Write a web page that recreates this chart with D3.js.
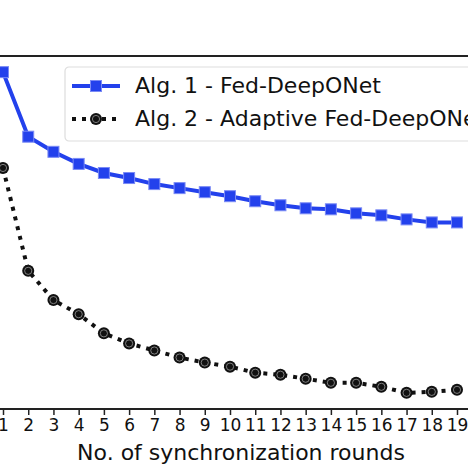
<!DOCTYPE html>
<html>
<head>
<meta charset="utf-8">
<script src="https://cdn.jsdelivr.net/npm/d3@7"></script>
<style>
  body { margin: 0; background: #fff; }
  text { font-family: "DejaVu Sans", sans-serif; fill: #111; }
</style>
</head>
<body>
<div id="chart"></div>
<script>
// rounds shown on the x axis
var rounds = d3.range(1, 20);

// Alg. 1 - Fed-DeepONet
var fedValues = [0.384, 0.320, 0.305, 0.293, 0.284, 0.279, 0.273, 0.269, 0.265, 0.261,
                 0.256, 0.252, 0.249, 0.248, 0.244, 0.242, 0.238, 0.235, 0.235];

// Alg. 2 - Adaptive Fed-DeepONet
var adaptiveValues = [0.289, 0.187, 0.158, 0.144, 0.125, 0.115, 0.108, 0.101, 0.096, 0.092,
                      0.086, 0.084, 0.080, 0.076, 0.076, 0.072, 0.066, 0.067, 0.069];

var seriesNames = ["Alg. 1 - Fed-DeepONet", "Alg. 2 - Adaptive Fed-DeepONet"];

var width = 468, height = 468;
var blue = "#2341ec";

var svg = d3.select("#chart").append("svg")
    .attr("width", width)
    .attr("height", height);

// x: round 1 sits at the very left, plot continues past the right edge
var x = d3.scaleLinear().domain([1, 19]).range([3, 457]);
var y = d3.scaleLinear().domain([0.05, 0.40]).range([409, 56]);

// top spine
svg.append("line")
    .attr("x1", 0).attr("x2", width)
    .attr("y1", 56).attr("y2", 56)
    .attr("stroke", "#222").attr("stroke-width", 2);

var xAxis = svg.append("g")
    .attr("transform", "translate(0,409)")
    .call(d3.axisBottom(x).tickValues(rounds).tickSize(6).tickPadding(4).tickFormat(d3.format("d")));
xAxis.select(".domain").remove();
xAxis.append("line")
    .attr("x1", 0).attr("x2", width)
    .attr("stroke", "#222").attr("stroke-width", 2);
xAxis.selectAll(".tick line").attr("stroke", "#222").attr("stroke-width", 1.5);
xAxis.selectAll(".tick text")
    .style("font-family", "DejaVu Sans")
    .style("font-size", "17px")
    .attr("fill", "#111");

svg.append("text")
    .attr("x", 241).attr("y", 460)
    .attr("text-anchor", "middle")
    .style("font-size", "22px")
    .text("No. of synchronization rounds");

var line = d3.line()
    .x(function (d, i) { return x(rounds[i]); })
    .y(function (d) { return y(d); });

function circleMarker(sel) {
    sel.append("circle").attr("r", 6).attr("fill", "#111");
    sel.append("circle").attr("r", 3.6).attr("fill", "none")
        .attr("stroke", "#999").attr("stroke-width", 0.8);
}

function squareMarker(sel) {
    sel.append("rect")
        .attr("x", -5.5).attr("y", -5.5)
        .attr("width", 11).attr("height", 11)
        .attr("fill", blue)
        .attr("stroke", "#7a8af5")
        .attr("stroke-width", 1);
}

// Adaptive series: dotted black with circle markers
svg.append("path")
    .datum(adaptiveValues)
    .attr("d", line)
    .attr("fill", "none")
    .attr("stroke", "#111")
    .attr("stroke-width", 4)
    .attr("stroke-dasharray", "4,6");

svg.selectAll(".dot")
    .data(adaptiveValues)
    .enter().append("g")
    .attr("class", "dot")
    .attr("transform", function (d, i) { return "translate(" + x(rounds[i]) + "," + y(d) + ")"; })
    .call(circleMarker);

// Fed-DeepONet: solid blue with square markers
svg.append("path")
    .datum(fedValues)
    .attr("d", line)
    .attr("fill", "none")
    .attr("stroke", blue)
    .attr("stroke-width", 4);

svg.selectAll(".sq")
    .data(fedValues)
    .enter().append("g")
    .attr("class", "sq")
    .attr("transform", function (d, i) { return "translate(" + x(rounds[i]) + "," + y(d) + ")"; })
    .call(squareMarker);

// legend
var legend = svg.append("g").attr("transform", "translate(65,67)");
legend.append("rect")
    .attr("x", 0).attr("y", 0)
    .attr("width", 430).attr("height", 74)
    .attr("rx", 4)
    .attr("fill", "#fff")
    .attr("fill-opacity", 0.85)
    .attr("stroke", "#ddd")
    .attr("stroke-width", 1.2);

legend.append("line")
    .attr("x1", 7).attr("x2", 55).attr("y1", 19).attr("y2", 19)
    .attr("stroke", blue).attr("stroke-width", 4);
legend.append("g").attr("transform", "translate(31,19)").call(squareMarker);

legend.append("line")
    .attr("x1", 7).attr("x2", 55).attr("y1", 52).attr("y2", 52)
    .attr("stroke", "#111").attr("stroke-width", 4)
    .attr("stroke-dasharray", "4,6");
legend.append("g").attr("transform", "translate(31,52)").call(circleMarker);

legend.selectAll(".lbl")
    .data(seriesNames)
    .enter().append("text")
    .attr("class", "lbl")
    .attr("x", 70)
    .attr("y", function (d, i) { return 26 + i * 33; })
    .style("font-size", "22px")
    .text(function (d) { return d; });
</script>
</body>
</html>
